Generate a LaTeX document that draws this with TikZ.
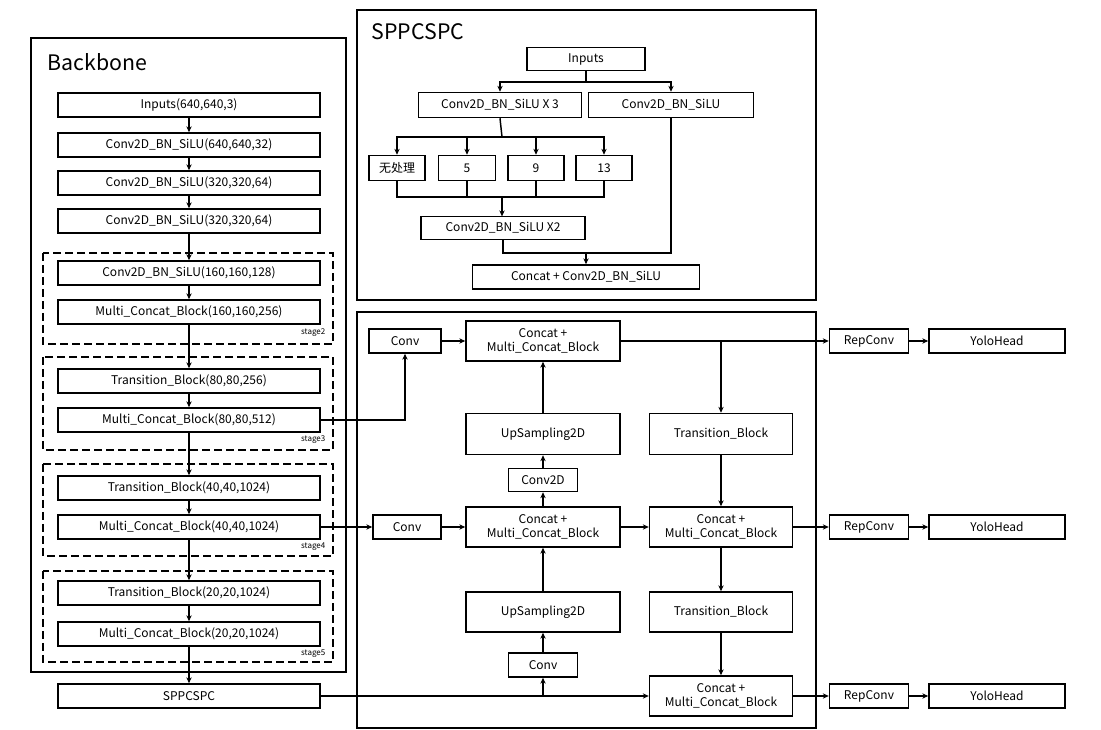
\documentclass[tikz,border=0pt]{standalone}
\usepackage{fontspec}
\setmainfont{Noto Sans CJK SC}
\usetikzlibrary{arrows.meta}
\newcommand\bx[6]{\node[box,minimum width=#4*0.75pt,minimum height=#5*0.75pt] (#1) at (#2,#3) {#6};}
\tikzset{
 box/.style={draw,line width=1.1pt,inner sep=0pt,align=center,font=\fontsize{9}{10.5}\selectfont},
 ln/.style={line width=1.1pt},
 ar/.style={line width=1.1pt,-{Stealth[length=4.5pt,width=4pt]}},
 frame/.style={draw,line width=1.1pt},
 dframe/.style={draw,line width=1.1pt,dash pattern=on 6pt off 3pt},
 stg/.style={font=\fontsize{6}{7}\selectfont,anchor=east}
}
\begin{document}
\begin{tikzpicture}[x=0.75pt,y=-0.75pt]
\useasboundingbox (0,0) rectangle (1101,730);
% Backbone
\draw[frame] (31,38) rectangle (346,672);
\node[anchor=west,font=\fontsize{16}{18}\selectfont] (tb) at (43,62) {Backbone};
\bx{i}{189}{105}{262}{24}{Inputs(640,640,3)}
\bx{c1}{189}{145}{262}{24}{Conv2D\_BN\_SiLU(640,640,32)}
\bx{c2}{189}{183}{262}{24}{Conv2D\_BN\_SiLU(320,320,64)}
\bx{c3}{189}{221}{262}{24}{Conv2D\_BN\_SiLU(320,320,64)}
\draw[dframe] (43,253) rectangle (333,344);
\bx{c4}{189}{273}{262}{24}{Conv2D\_BN\_SiLU(160,160,128)}
\bx{m2}{189}{312}{262}{24}{Multi\_Concat\_Block(160,160,256)}
\node[stg] (s2) at (330,333) {stage2};
\draw[dframe] (43,357) rectangle (333,450);
\bx{t3}{189}{381}{262}{24}{Transition\_Block(80,80,256)}
\bx{m3}{189}{420}{262}{24}{Multi\_Concat\_Block(80,80,512)}
\node[stg] (s3) at (330,440) {stage3};
\draw[dframe] (43,464) rectangle (333,556);
\bx{t4}{189}{488}{262}{24}{Transition\_Block(40,40,1024)}
\bx{m4}{189}{527}{262}{24}{Multi\_Concat\_Block(40,40,1024)}
\node[stg] (s4) at (330,547) {stage4};
\draw[dframe] (43,571) rectangle (333,662);
\bx{t5}{189}{593}{262}{24}{Transition\_Block(20,20,1024)}
\bx{m5}{189}{634}{262}{24}{Multi\_Concat\_Block(20,20,1024)}
\node[stg] (s5) at (330,654) {stage5};
\bx{sp}{189}{696}{262}{24}{SPPCSPC}
\foreach \a/\b in {i/c1,c1/c2,c2/c3,c3/c4,c4/m2,m2/t3,t3/m3,m3/t4,t4/m4,m4/t5,t5/m5,m5/sp}
 \draw[ar] (\a) -- (\b);
% SPPCSPC
\draw[frame] (357,10) rectangle (816,300);
\node[anchor=west,font=\fontsize{16}{18}\selectfont] (ts) at (367,32) {SPPCSPC};
\bx{pi}{586}{59}{118}{23}{Inputs}
\bx{px}{500}{105}{163}{25}{Conv2D\_BN\_SiLU X 3}
\bx{pc}{671}{105}{165}{25}{Conv2D\_BN\_SiLU}
\bx{p0}{397}{168}{56}{25}{无处理}
\bx{p5}{467}{168}{57}{25}{5}
\bx{p9}{536}{168}{56}{25}{9}
\bx{p13}{604}{168}{56}{25}{13}
\bx{p2}{503}{228}{164}{23}{Conv2D\_BN\_SiLU X2}
\bx{pcc}{586}{277}{227}{24}{Concat + Conv2D\_BN\_SiLU}
\draw[ln] (pi.south) -- (586,82);
\draw[ar] (586,82) -| (px.north);
\draw[ar] (586,82) -| (pc.north);
\draw[ln] (px.south) -- (502,137);
\foreach \n in {p0,p5,p9,p13} \draw[ar] (502,137) -| (\n.north);
\foreach \n in {p0,p5,p9,p13} \draw[ln] (\n.south) |- (502,197);
\draw[ar] (502,197) -- (502,216.4);
\draw[ln] (p2.south) |- (586,253);
\draw[ln] (pc.south) |- (586,253);
\draw[ar] (586,253) -- (pcc.north);
% Head
\draw[frame] (357,312) rectangle (816,728);
\bx{hc1}{405}{341}{72}{24}{Conv}
\bx{h1}{543}{341}{154}{40}{Concat +\\Multi\_Concat\_Block}
\bx{u1}{543}{434}{154}{41}{UpSampling2D}
\bx{cd}{543}{480}{69}{23}{Conv2D}
\bx{h2}{543}{527}{154}{40}{Concat +\\Multi\_Concat\_Block}
\bx{u2}{543}{612}{154}{40}{UpSampling2D}
\bx{hc3}{543}{665}{69}{24}{Conv}
\bx{hc2}{407}{527}{68}{24}{Conv}
\bx{r1}{721}{434}{143}{41}{Transition\_Block}
\bx{r2}{721}{527}{143}{40}{Concat +\\Multi\_Concat\_Block}
\bx{r3}{721}{612}{143}{40}{Transition\_Block}
\bx{r4}{721}{696}{143}{40}{Concat +\\Multi\_Concat\_Block}
\foreach \y/\k in {341/a,527/b,696/c}{
 \bx{rep\k}{869}{\y}{79}{24}{RepConv}
 \bx{yh\k}{997}{\y}{136}{24}{YoloHead}
 \draw[ar] (rep\k) -- (yh\k);
}
\draw[ar] (m3.east) -| (hc1.south);
\draw[ar] (hc1) -- (h1);
\draw[ar] (h1) -- (repa);
\draw[ar] (721,341) -- (r1.north);
\draw[ar] (u1) -- (h1);
\draw[ar] (cd) -- (u1);
\draw[ar] (h2) -- (cd);
\draw[ar] (m4) -- (hc2);
\draw[ar] (hc2) -- (h2);
\draw[ar] (r1) -- (r2);
\draw[ar] (h2) -- (r2);
\draw[ar] (r2) -- (repb);
\draw[ar] (r2) -- (r3);
\draw[ar] (r3) -- (r4);
\draw[ar] (u2) -- (h2);
\draw[ar] (hc3) -- (u2);
\draw[ar] (sp) -- (r4);
\draw[ar] (543,696) -- (hc3.south);
\draw[ar] (r4) -- (repc);
\end{tikzpicture}
\end{document}
